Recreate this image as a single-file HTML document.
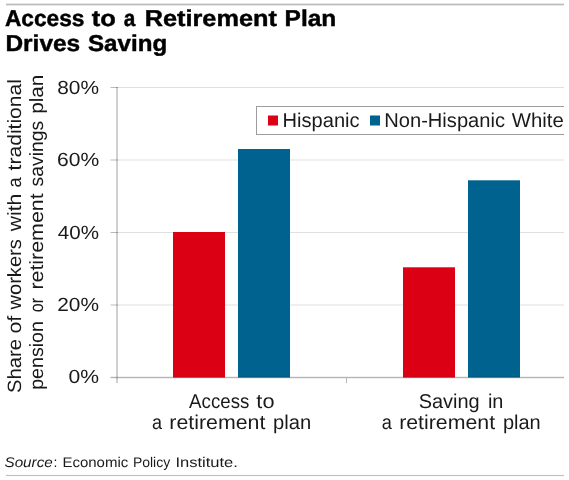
<!DOCTYPE html>
<html>
<head>
<meta charset="utf-8">
<style>
html,body{margin:0;padding:0;background:#fff;width:569px;height:480px;overflow:hidden;}
svg{display:block;will-change:transform;}
text{font-family:"Liberation Sans", sans-serif;text-rendering:geometricPrecision;}
</style>
</head>
<body>
<svg width="569" height="480" viewBox="0 0 569 480">
<g id="shapes">
<rect x="0" y="0" width="569" height="480" fill="#ffffff"/>
<rect x="6" y="3.65" width="558" height="1.7" fill="#b9bcbe"/>
<g fill="#e0e0e0">
<rect x="117" y="87" width="447" height="1"/>
<rect x="117" y="159.5" width="447" height="1"/>
<rect x="117" y="232" width="447" height="1"/>
<rect x="117" y="304.5" width="447" height="1"/>
</g>
<rect x="173" y="232" width="52" height="145.5" fill="#dc0015"/>
<rect x="238" y="149" width="52" height="228.5" fill="#00628f"/>
<rect x="403" y="267.3" width="52" height="110.2" fill="#dc0015"/>
<rect x="468" y="180.3" width="52" height="197.2" fill="#00628f"/>
<rect x="116" y="87" width="2" height="296" fill="#d0d0d0"/>
<g fill="#000" fill-opacity="0.27">
<rect x="110.5" y="87" width="7.5" height="1"/>
<rect x="110.5" y="159.5" width="7.5" height="1"/>
<rect x="110.5" y="232" width="7.5" height="1"/>
<rect x="110.5" y="304.5" width="7.5" height="1"/>
</g>
<rect x="110.5" y="376.8" width="453.5" height="1.4" fill="#000" fill-opacity="0.29"/>
<rect x="346" y="377" width="1" height="6" fill="#b5b5b5"/>
<g fill="#9c9c9c"><rect x="256" y="106" width="308" height="1"/><rect x="256" y="134" width="308" height="1"/><rect x="256" y="106" width="1" height="29"/></g>
<rect x="268" y="115.5" width="10" height="10" fill="#dc0015"/>
<rect x="370" y="115.5" width="10" height="10" fill="#00628f"/>
<rect x="6" y="474.9" width="558" height="1.2" fill="#bfc2c4"/>
</g>
<g id="texts">
<text id="t1a" x="4.98" y="26.00" font-size="22.8" font-weight="bold" fill="#000" stroke="#000" stroke-width="0.45" textLength="79.53" lengthAdjust="spacingAndGlyphs">Access</text>
<text id="t1b" x="91.66" y="26.00" font-size="22.8" font-weight="bold" fill="#000" stroke="#000" stroke-width="0.45" textLength="24.10" lengthAdjust="spacingAndGlyphs">to</text>
<text id="t1c" x="123.70" y="26.00" font-size="22.8" font-weight="bold" fill="#000" stroke="#000" stroke-width="0.45" textLength="11.55" lengthAdjust="spacingAndGlyphs">a</text>
<text id="t1d" x="144.77" y="26.00" font-size="22.8" font-weight="bold" fill="#000" stroke="#000" stroke-width="0.45" textLength="132.09" lengthAdjust="spacingAndGlyphs">Retirement</text>
<text id="t1e" x="284.59" y="26.00" font-size="22.8" font-weight="bold" fill="#000" stroke="#000" stroke-width="0.45" textLength="51.74" lengthAdjust="spacingAndGlyphs">Plan</text>
<text id="t2a" x="5.48" y="51.00" font-size="22.8" font-weight="bold" fill="#000" stroke="#000" stroke-width="0.45" textLength="74.73" lengthAdjust="spacingAndGlyphs">Drives</text>
<text id="t2b" x="88.03" y="51.00" font-size="22.8" font-weight="bold" fill="#000" stroke="#000" stroke-width="0.45" textLength="79.15" lengthAdjust="spacingAndGlyphs">Saving</text>
<text id="y80" x="57.26" y="94.40" font-size="19" fill="#1a1a1a" textLength="41.76" lengthAdjust="spacingAndGlyphs">80%</text>
<text id="y60" x="57.03" y="166.40" font-size="19" fill="#1a1a1a" textLength="42.13" lengthAdjust="spacingAndGlyphs">60%</text>
<text id="y40" x="57.86" y="238.90" font-size="19" fill="#1a1a1a" textLength="41.07" lengthAdjust="spacingAndGlyphs">40%</text>
<text id="y20" x="57.24" y="311.15" font-size="19" fill="#1a1a1a" textLength="41.66" lengthAdjust="spacingAndGlyphs">20%</text>
<text id="y0" x="68.45" y="383.40" font-size="19" fill="#1a1a1a" textLength="30.51" lengthAdjust="spacingAndGlyphs">0%</text>
<text id="lg1" x="282.59" y="126.80" font-size="20" fill="#1a1a1a" textLength="76.98" lengthAdjust="spacingAndGlyphs">Hispanic</text>
<text id="lg2" x="384.24" y="126.80" font-size="20" fill="#1a1a1a" textLength="120.75" lengthAdjust="spacingAndGlyphs">Non-Hispanic</text>
<text id="lg3" x="511.69" y="126.80" font-size="20" fill="#1a1a1a" textLength="52.03" lengthAdjust="spacingAndGlyphs">White</text>
<text id="xa1" x="189.12" y="407.70" font-size="20" fill="#1a1a1a" textLength="60.28" lengthAdjust="spacingAndGlyphs">Access</text>
<text id="xa2" x="256.37" y="407.70" font-size="20" fill="#1a1a1a" textLength="18.14" lengthAdjust="spacingAndGlyphs">to</text>
<text id="xb1" x="151.95" y="429.20" font-size="20" fill="#1a1a1a" textLength="10.03" lengthAdjust="spacingAndGlyphs">a</text>
<text id="xb2" x="169.37" y="429.20" font-size="20" fill="#1a1a1a" textLength="96.05" lengthAdjust="spacingAndGlyphs">retirement</text>
<text id="xb3" x="272.98" y="429.20" font-size="20" fill="#1a1a1a" textLength="38.13" lengthAdjust="spacingAndGlyphs">plan</text>
<text id="xc1" x="418.68" y="407.70" font-size="20" fill="#1a1a1a" textLength="61.00" lengthAdjust="spacingAndGlyphs">Saving</text>
<text id="xc2" x="487.96" y="407.70" font-size="20" fill="#1a1a1a" textLength="15.50" lengthAdjust="spacingAndGlyphs">in</text>
<text id="xd1" x="381.81" y="429.20" font-size="20" fill="#1a1a1a" textLength="10.11" lengthAdjust="spacingAndGlyphs">a</text>
<text id="xd2" x="399.18" y="429.20" font-size="20" fill="#1a1a1a" textLength="95.90" lengthAdjust="spacingAndGlyphs">retirement</text>
<text id="xd3" x="502.89" y="429.20" font-size="20" fill="#1a1a1a" textLength="37.83" lengthAdjust="spacingAndGlyphs">plan</text>
<text id="s1" x="4.48" y="466.90" font-size="14" font-style="italic" fill="#1a1a1a" textLength="48.31" lengthAdjust="spacingAndGlyphs">Source</text>
<text id="s2" x="53.44" y="466.90" font-size="14" fill="#1a1a1a" textLength="3.89" lengthAdjust="spacingAndGlyphs">:</text>
<text id="s3" x="62.46" y="466.90" font-size="14" fill="#1a1a1a" textLength="65.79" lengthAdjust="spacingAndGlyphs">Economic</text>
<text id="s4" x="132.89" y="466.90" font-size="14" fill="#1a1a1a" textLength="37.36" lengthAdjust="spacingAndGlyphs">Policy</text>
<text id="s5" x="175.40" y="466.90" font-size="14" fill="#1a1a1a" textLength="62.47" lengthAdjust="spacingAndGlyphs">Institute.</text>
<text id="ra0" transform="translate(21.10,0.00) rotate(-90)" x="-392.97" y="0" font-size="19.2" fill="#1a1a1a" textLength="53.83" lengthAdjust="spacingAndGlyphs">Share</text>
<text id="ra1" transform="translate(21.10,0.00) rotate(-90)" x="-333.46" y="0" font-size="19.2" fill="#1a1a1a" textLength="17.71" lengthAdjust="spacingAndGlyphs">of</text>
<text id="ra2" transform="translate(21.10,0.00) rotate(-90)" x="-309.61" y="0" font-size="19.2" fill="#1a1a1a" textLength="70.51" lengthAdjust="spacingAndGlyphs">workers</text>
<text id="ra3" transform="translate(21.10,0.00) rotate(-90)" x="-231.28" y="0" font-size="19.2" fill="#1a1a1a" textLength="37.59" lengthAdjust="spacingAndGlyphs">with</text>
<text id="ra4" transform="translate(21.10,0.00) rotate(-90)" x="-187.46" y="0" font-size="19.2" fill="#1a1a1a" textLength="10.13" lengthAdjust="spacingAndGlyphs">a</text>
<text id="ra5" transform="translate(21.10,0.00) rotate(-90)" x="-170.44" y="0" font-size="19.2" fill="#1a1a1a" textLength="91.42" lengthAdjust="spacingAndGlyphs">traditional</text>
<text id="rb0" transform="translate(43.00,0.00) rotate(-90)" x="-389.89" y="0" font-size="19.2" fill="#1a1a1a" textLength="68.78" lengthAdjust="spacingAndGlyphs">pension</text>
<text id="rb1" transform="translate(43.00,0.00) rotate(-90)" x="-312.25" y="0" font-size="19.2" fill="#1a1a1a" textLength="14.23" lengthAdjust="spacingAndGlyphs">or</text>
<text id="rb2" transform="translate(43.00,0.00) rotate(-90)" x="-289.61" y="0" font-size="19.2" fill="#1a1a1a" textLength="96.23" lengthAdjust="spacingAndGlyphs">retirement</text>
<text id="rb3" transform="translate(43.00,0.00) rotate(-90)" x="-186.42" y="0" font-size="19.2" fill="#1a1a1a" textLength="65.48" lengthAdjust="spacingAndGlyphs">savings</text>
<text id="rb4" transform="translate(43.00,0.00) rotate(-90)" x="-113.82" y="0" font-size="19.2" fill="#1a1a1a" textLength="39.10" lengthAdjust="spacingAndGlyphs">plan</text>
</g>
</svg>
</body>
</html>
